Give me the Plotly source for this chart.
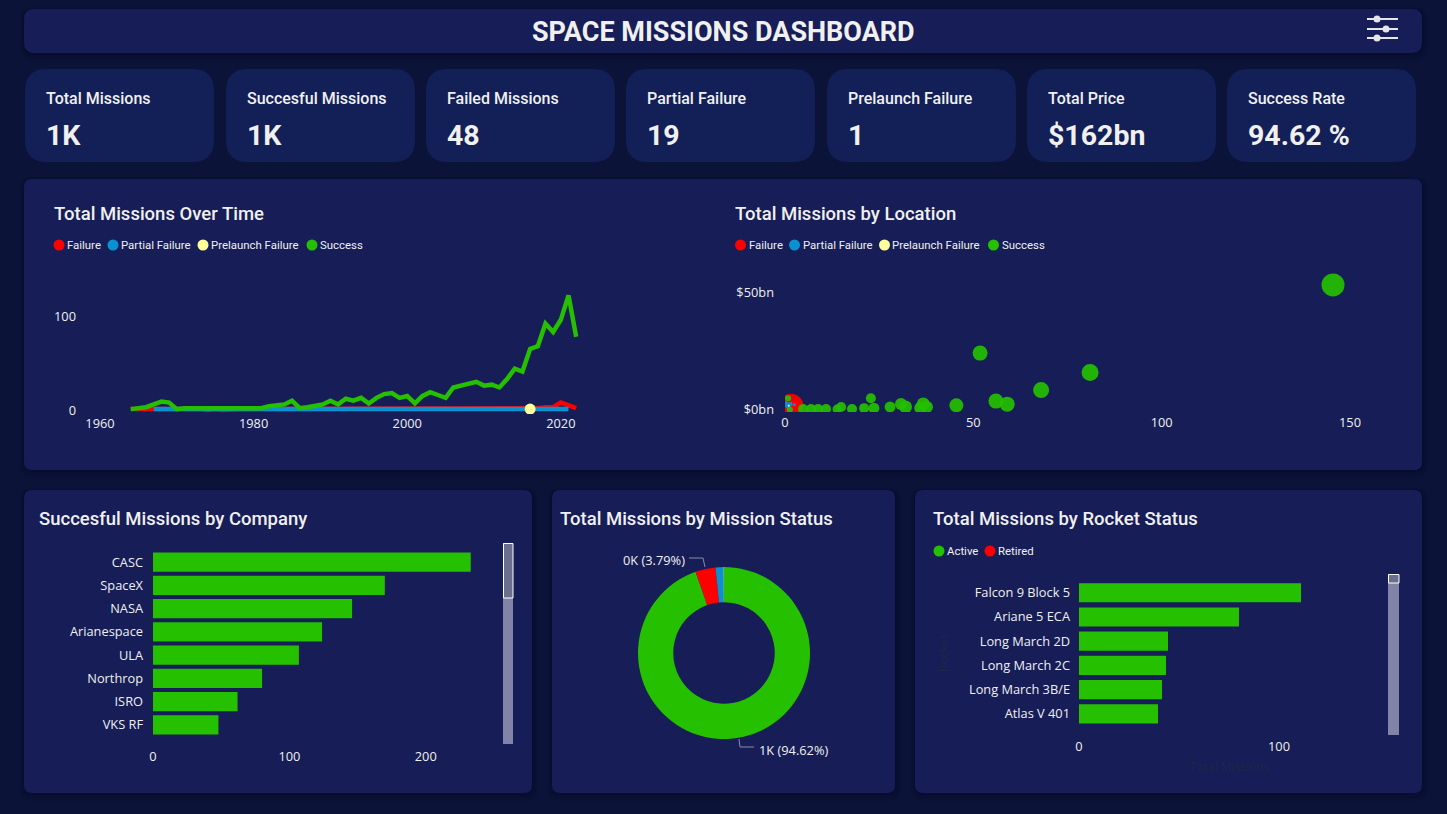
import plotly.graph_objects as go

W, H = 1447, 814

# KPI cards
kpi_labels = ['Total Missions', 'Succesful Missions', 'Failed Missions', 'Partial Failure',
              'Prelaunch Failure', 'Total Price', 'Success Rate']
kpi_values = ['1K', '1K', '48', '19', '1', '$162bn', '94.62 %']

# Total missions over time
years = list(range(1964, 2023))
success_by_year = [1, 2, 3, 6, 9, 8, 1, 2, 2, 1, 1, 1, 1, 1, 1, 1, 2, 2, 4, 5, 6, 10, 2, 3, 5, 6, 10, 6, 12, 10,
                   13, 7, 13, 17, 18, 13, 15, 7, 15, 19, 16, 13, 24, 26, 27, 30, 26, 27, 24, 33, 44, 41, 65, 68,
                   92, 83, 96, 122, 78]
failure_by_year = [1, 1, 2, 1, 1, 1, 1, 1, 1, 1, 0, 1, 0, 1, 1, 1, 1, 1, 1, 1, 1, 1, 1, 1, 1, 1, 1, 1, 1, 1,
                   2, 1, 1, 1, 1, 1, 1, 1, 1, 1, 1, 1, 2, 1, 1, 1, 2, 1, 1, 1, 1, 1, 1, 2, 3, 3, 8, 5, 2]
partial_years = list(range(1967, 2022))
partial_by_year = [1, 1, 1, 1, 1, 1, 1, 1, 1, 1, 1, 1, 1, 1, 1, 1, 1, 1, 1, 1, 1, 1, 1, 1, 1, 1, 2, 2, 2, 1,
                   1, 1, 1, 1, 1, 1, 1, 1, 1, 2, 2, 2, 1, 1, 1, 1, 1, 1, 1, 1, 2, 1, 1, 1, 1]
prelaunch_years = [2016]
prelaunch_by_year = [1]

# Total missions by location: missions, price (bn), bubble value
success_missions = [145.5, 81, 68, 59, 56, 51.8, 45.5, 37.7, 36.7, 35.9, 32, 30.8, 27.9, 23.6, 22.8, 21, 17.8,
                    14.9, 13.8, 10.9, 8.8, 6.9, 4.8, 1.3, 0.8]
success_price = [53.4, 16, 8.5, 2.5, 3.8, 24.3, 2, 1.3, 2.6, 0.9, 1.3, 2.6, 1.3, 0.8, 5, 0.8, 0.4,
                  1.3, 0.4, 0.4, 0.4, 0.4, 0.4, 0.1, 5]
success_bubble = [23, 17, 16, 15, 15, 15, 14, 12, 13, 12, 13, 12, 11, 11, 10, 10, 10, 10, 9, 10, 10, 10, 10, 6, 6]
failure_missions = [1.6, 3.5, 2.6, 0.6]
failure_price = [1.6, 0.4, 2, 0.3]
failure_bubble = [25, 8, 12, 8]
partial_missions = [0.3, 1, 1.5, 0.8, 2.5]
partial_price = [2.5, 2, 2.6, 1.4, 2.2]
partial_bubble = [6, 5, 4, 4, 3]
prelaunch_missions = [1]
prelaunch_price = [1.8]
prelaunch_bubble = [2]
price_ticks = [0, 50]
price_tick_labels = ['$0bn', '$50bn']

# Succesful missions by company
companies = ['CASC', 'SpaceX', 'NASA', 'Arianespace', 'ULA', 'Northrop', 'ISRO', 'VKS RF']
company_missions = [233, 170, 146, 124, 107, 80, 62, 48]

# Mission status
status_labels = ['Success', 'Failure', 'Partial Failure', 'Prelaunch Failure']
status_counts = [1199, 48, 19, 1]

# Rocket status
rockets = ['Falcon 9 Block 5', 'Ariane 5 ECA', 'Long March 2D', 'Long March 2C', 'Long March 3B/E', 'Atlas V 401']
rocket_missions = [111, 80, 44.5, 43.5, 41.5, 39.5]

BG = '#0B1338'
PANEL = '#161D57'
CARD = '#131F57'
SHADOW = 'rgba(0,0,10,0.07)'
GREEN = '#25C000'
RED = '#FF0000'
BLUE = '#0A91CF'
YELLOW = '#FFFF99'
TEXT = '#F0F0F0'
TITLE_FONT = 'Roboto'
TICK_FONT = 'Open Sans'


def px(x):
    return x / W


def py(y):
    return 1 - y / H


def rounded(x0, y0, x1, y1, r, color):
    path = (f'M{x0 + r},{y0} L{x1 - r},{y0} Q{x1},{y0} {x1},{y0 + r} L{x1},{y1 - r} Q{x1},{y1} {x1 - r},{y1} '
            f'L{x0 + r},{y1} Q{x0},{y1} {x0},{y1 - r} L{x0},{y0 + r} Q{x0},{y0} {x0 + r},{y0} Z')
    path = pixel_path(path)
    return dict(type='path', path=path, xref='paper', yref='paper', fillcolor=color,
                line=dict(width=0), layer='below')


def pixel_path(path):
    # convert "x,y" pixel pairs in an svg path into paper coordinates
    out = []
    for tok in path.split(' '):
        cmd = tok[0] if tok[0].isalpha() else ''
        body = tok[1:] if cmd else tok
        if body:
            a, b = body.split(',')
            body = f'{px(float(a)):.5f},{py(float(b)):.5f}'
        out.append(cmd + body)
    return ' '.join(out)


def panel(x0, y0, x1, y1, r, color):
    # soft drop shadow under the card, then the card
    return [rounded(x0 - 4, y0 - 2, x1 + 6, y1 + 8, r + 4, SHADOW),
            rounded(x0 - 2, y0 - 1, x1 + 4, y1 + 5, r + 2, SHADOW),
            rounded(x0 - 1, y0, x1 + 2, y1 + 2, r + 1, SHADOW),
            rounded(x0, y0, x1, y1, r, color)]


def rect(x0, y0, x1, y1, color, line=None):
    return dict(type='rect', xref='paper', yref='paper', x0=px(x0), x1=px(x1), y0=py(y0), y1=py(y1),
                fillcolor=color, line=dict(width=1, color=line) if line else dict(width=0))


def circle(cx, cy, r, color):
    return dict(type='circle', xref='paper', yref='paper', x0=px(cx - r), x1=px(cx + r), y0=py(cy - r), y1=py(cy + r),
                fillcolor=color, line=dict(width=0))


def seg(x0, y0, x1, y1, color, width=1):
    return dict(type='line', xref='paper', yref='paper', x0=px(x0), x1=px(x1), y0=py(y0), y1=py(y1),
                line=dict(color=color, width=width))


def label(x, y, text, size, family=TITLE_FONT, weight=400, anchor='left', color=TEXT):
    # annotations carry a small inner padding
    nudge = {'left': -2, 'right': 2, 'center': 0}[anchor]
    return dict(x=px(x + nudge), y=py(y), xref='paper', yref='paper', text=text, showarrow=False, xanchor=anchor,
                yanchor='middle', font=dict(family=family, size=size, color=color, weight=weight))


shapes = (panel(24, 9, 1422, 53, 10, PANEL) + panel(24, 179, 1422, 470, 8, PANEL) + panel(24, 490, 532, 793, 8, PANEL)
          + panel(552, 490, 895, 793, 8, PANEL) + panel(915, 490, 1422, 793, 8, PANEL))
annotations = [label(723, 32, 'SPACE MISSIONS DASHBOARD', 27, weight=700, anchor='center')]

# cards
card_left = [25, 226, 426, 626, 827, 1027, 1227]
for left, name, value in zip(card_left, kpi_labels, kpi_values):
    shapes.append(rounded(left, 69, left + 189, 162, 22, CARD))
    annotations.append(label(left + 21, 99, name, 16, weight=500))
    annotations.append(label(left + 21, 135, value, 28.5, weight=700))

# filter icon
for yy, dot in [(19, 1377), (29, 1386), (38, 1377)]:
    shapes.append(seg(1367, yy, 1398, yy, '#E5E5EA', 2))
    shapes.append(circle(dot, yy, 3.5, '#E5E5EA'))

# panel titles
annotations += [label(54, 214, 'Total Missions Over Time', 18.5, weight=500),
                label(735, 214, 'Total Missions by Location', 18.5, weight=500),
                label(39, 519, 'Succesful Missions by Company', 18.5, weight=500),
                label(560, 519, 'Total Missions by Mission Status', 18.5, weight=500),
                label(933, 519, 'Total Missions by Rocket Status', 18.5, weight=500)]

# legends
legend_items = [('Failure', RED, 59, 67), ('Partial Failure', BLUE, 113, 121),
                ('Prelaunch Failure', YELLOW, 203, 211), ('Success', GREEN, 312, 320)]
for offset in (0, 681.5):
    for name, color, cx, tx in legend_items:
        shapes.append(circle(cx + offset, 245, 5.5, color))
        annotations.append(label(tx + offset, 245, name, 11.4))
for name, color, cx, tx in [('Active', GREEN, 939, 947), ('Retired', RED, 990, 998)]:
    shapes.append(circle(cx, 551, 5.5, color))
    annotations.append(label(tx, 551, name, 11.4))

# scrollbars
shapes += [rect(503, 543, 513, 744, '#8184A6'),
           rect(503.5, 543.5, 513, 598, '#6B6E8C', '#FFFFFF'),
           rect(1388, 574, 1399, 735, '#8184A6'),
           rect(1388.5, 574.5, 1399, 583, '#6B6E8C', '#FFFFFF')]

# donut labels and leaders
annotations += [label(685, 560, '0K (3.79%)', 12.8, TICK_FONT, anchor='right'),
                label(759, 750, '1K (94.62%)', 12.8, TICK_FONT)]
shapes += [seg(689, 558, 703, 558, '#8A8DA8'), seg(703, 558, 705, 567, '#8A8DA8'),
           seg(739, 739, 740, 747, '#8A8DA8'), seg(740, 747, 754, 747, '#8A8DA8')]

fig = go.Figure()

fig.add_trace(go.Scatter(x=years, y=failure_by_year, name='Failure', mode='lines', xaxis='x', yaxis='y',
                         line=dict(color=RED, width=4.5)))
fig.add_trace(go.Scatter(x=partial_years, y=partial_by_year, name='Partial Failure', mode='lines', xaxis='x', yaxis='y',
                         line=dict(color=BLUE, width=4.5)))
fig.add_trace(go.Scatter(x=years, y=success_by_year, name='Success', mode='lines', xaxis='x', yaxis='y',
                         line=dict(color=GREEN, width=4.5)))
fig.add_trace(go.Scatter(x=prelaunch_years, y=prelaunch_by_year, name='Prelaunch Failure', mode='markers', xaxis='x',
                         yaxis='y', marker=dict(color=YELLOW, size=11)))

# green goes last: it sits on top of the red cluster in the corner
for name, color, xs, ys, sizes in [('Failure', RED, failure_missions, failure_price, failure_bubble),
                                   ('Partial Failure', BLUE, partial_missions, partial_price, partial_bubble),
                                   ('Prelaunch Failure', YELLOW, prelaunch_missions, prelaunch_price, prelaunch_bubble),
                                   ('Success', GREEN, success_missions, success_price, success_bubble)]:
    fig.add_trace(go.Scatter(x=xs, y=ys, name=name, mode='markers', xaxis='x2', yaxis='y2',
                             marker=dict(color=color, size=sizes, opacity=0.92, line=dict(width=0))))

fig.add_trace(go.Bar(x=company_missions, y=companies, orientation='h', xaxis='x3', yaxis='y3',
                     marker=dict(color=GREEN, line=dict(width=0)), width=0.82))

fig.add_trace(go.Pie(labels=status_labels, values=status_counts, hole=0.59, sort=False, direction='clockwise',
                     rotation=0, textinfo='none', domain=dict(x=[px(638), px(810)], y=[py(739), py(567)]),
                     marker=dict(colors=[GREEN, RED, BLUE, YELLOW], line=dict(width=0))))

fig.add_trace(go.Bar(x=rocket_missions, y=rockets, orientation='h', xaxis='x4', yaxis='y4',
                     marker=dict(color=GREEN, line=dict(width=0)), width=0.79))

tick = dict(family=TICK_FONT, size=12.8, color=TEXT)
base = dict(showgrid=False, zeroline=False, showline=False, ticks='', tickfont=tick)

fig.update_layout(
    width=W, height=H, margin=dict(l=0, r=0, t=0, b=0, autoexpand=False), autosize=False,
    paper_bgcolor=BG, plot_bgcolor='rgba(0,0,0,0)', showlegend=False,
    shapes=shapes, annotations=annotations,
    xaxis=dict(base, domain=[px(100), px(600)], range=[1960, 2025.1], tickvals=[1960, 1980, 2000, 2020],
               anchor='y', ticklabelstandoff=0),
    yaxis=dict(base, domain=[py(414), py(270)], range=[-4.2, 149], tickvals=[0, 100], anchor='x',
               ticklabelstandoff=23),
    xaxis2=dict(base, domain=[px(785), px(1385)], range=[0, 159.3], tickvals=[0, 50, 100, 150], anchor='y2',
                ticklabelstandoff=1),
    yaxis2=dict(base, domain=[py(412), py(270)], range=[-0.85, 59.8], tickvals=price_ticks, ticktext=price_tick_labels,
                anchor='x2', ticklabelstandoff=10),
    xaxis3=dict(base, domain=[px(153), px(498)], range=[0, 253], tickvals=[0, 100, 200], anchor='y3',
                ticklabelstandoff=11),
    yaxis3=dict(base, domain=[py(736.5), py(550.5)], range=[7.5, -0.5], anchor='x3', type='category',
                ticklabelstandoff=9),
    xaxis4=dict(base, domain=[px(1079), px(1380)], range=[0, 150.5], tickvals=[0, 100], anchor='y4',
                ticklabelstandoff=11, title=dict(text='Total Missions', font=dict(family=TICK_FONT, size=12, color='#20264A'),
                                                standoff=8)),
    yaxis4=dict(base, domain=[py(726), py(580.6)], range=[5.5, -0.5], anchor='x4', type='category',
                ticklabelstandoff=8, title=dict(text='Rocket', font=dict(family=TICK_FONT, size=12, color='#20264A'),
                                                standoff=17)),
)

fig.write_html("out.html", config=dict(displayModeBar=False), post_script="document.body.style.margin='0';")
